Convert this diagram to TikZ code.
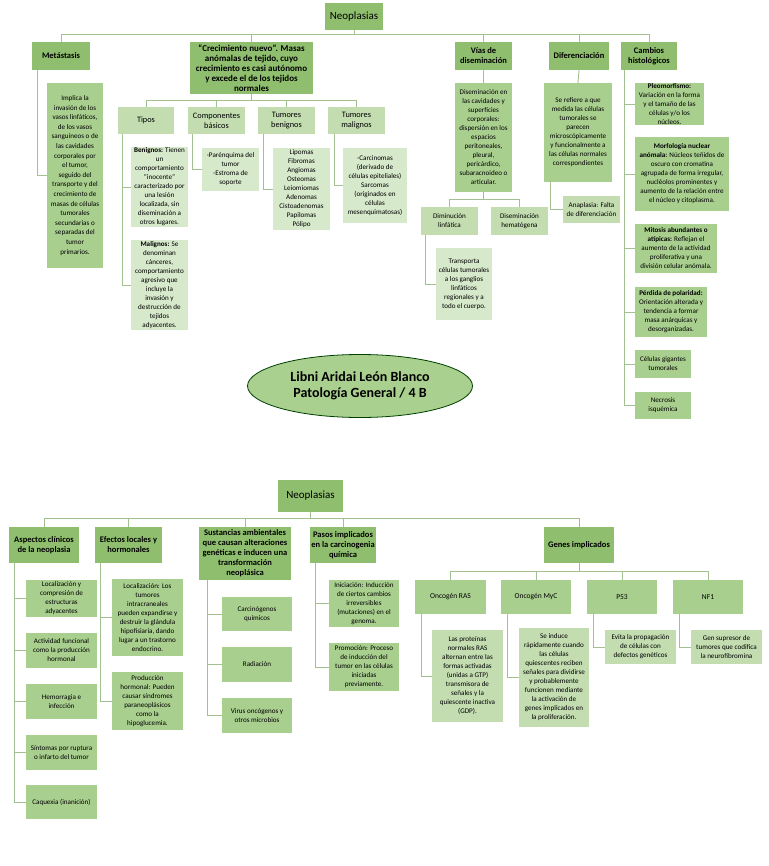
\documentclass[tikz,border=0pt]{standalone}
\usepackage{fontspec}
\setmainfont{Carlito}
\usetikzlibrary{shapes.geometric}
\definecolor{dkc}{HTML}{8FBE6E}
\definecolor{mdc}{HTML}{A9CF8F}
\definecolor{ltc}{HTML}{C3DDB1}
\definecolor{vlc}{HTML}{D7E9CB}
\definecolor{lnc}{HTML}{A3C190}
\definecolor{elc}{HTML}{A9D08E}
\tikzset{
 bx/.style={rectangle, inner sep=0.5pt, align=center, font=\fontsize{7.1}{9}\selectfont, text=black},
 lvone/.style={bx, fill=dkc, font=\fontsize{11}{13}\selectfont},
 lvtwo/.style={bx, fill=dkc, font=\bfseries\fontsize{8.5}{10}\selectfont},
 mdb/.style={bx, fill=mdc},
 ltb/.style={bx, fill=ltc},
 vlb/.style={bx, fill=vlc},
 ltbig/.style={bx, fill=ltc, font=\fontsize{8.3}{10}\selectfont},
 mdbig/.style={bx, fill=mdc, font=\fontsize{7.5}{9}\selectfont},
 conn/.style={draw=lnc, line width=0.9pt},
}
\newcommand{\mybox}[7]{\pgfmathsetmacro{\mbw}{#5-#3}\pgfmathsetmacro{\mbh}{#6-#4}\node[#2,minimum width=\mbw pt,minimum height=\mbh pt] (#1) at ({(#3+#5)/2},{(#4+#6)/2}) {#7};}
\begin{document}
\begin{tikzpicture}[x=1pt,y=-1pt]
\fill[white] (0,0) rectangle (768,866);
\useasboundingbox (0,0) rectangle (768,866);
% ---------- TOP ----------
\mybox{neo}{lvone}{325}{3}{383}{30}{Neoplasias}
\mybox{met}{lvtwo}{32}{42}{90}{70}{Metástasis}
\mybox{crec}{lvtwo,font=\bfseries\fontsize{9}{10}\selectfont}{190}{42}{313}{94}{“Crecimiento nuevo”. Masas\\anómalas de tejido, cuyo\\crecimiento es casi autónomo\\y excede el de los tejidos\\normales}
\mybox{vias}{lvtwo}{455}{42}{512}{70}{Vías de\\diseminación}
\mybox{dif}{lvtwo}{549}{42}{609}{70}{Diferenciación}
\mybox{cam}{lvtwo}{621}{42}{677}{70}{Cambios\\histológicos}
\mybox{impl}{mdb,font=\fontsize{7.1}{9.6}\selectfont}{47}{83}{103}{268}{Implica la\\invasión de los\\vasos linfáticos,\\de los vasos\\sanguíneos o de\\las cavidades\\corporales por\\el tumor,\\seguido del\\transporte y del\\crecimiento de\\masas de células\\tumorales\\secundarias o\\separadas del\\tumor\\primarios.}
\mybox{tipos}{ltbig}{118}{107}{174}{134}{Tipos}
\mybox{comp}{ltbig}{188}{107}{245}{134}{Componentes\\básicos}
\mybox{tben}{ltbig}{258}{107}{315}{134}{Tumores\\benignos}
\mybox{tmal}{ltbig}{328}{107}{385}{134}{Tumores\\malignos}
\mybox{ben}{vlb}{131}{147}{188}{227}{\textbf{Benignos:} Tienen\\un\\comportamiento\\“inocente”\\caracterizado por\\una lesión\\localizada, sin\\diseminación a\\otros lugares.}
\mybox{mal}{vlb}{131}{240}{188}{330}{\textbf{Malignos:} Se\\denominan\\cánceres,\\comportamiento\\agresivo que\\incluye la\\invasión y\\destrucción de\\tejidos\\adyacentes.}
\mybox{par}{vlb}{202}{148}{259}{191}{-Parénquima del\\tumor\\-Estroma de\\soporte}
\mybox{lip}{vlb}{273}{148}{330}{230}{Lipomas\\Fibromas\\Angiomas\\Osteomas\\Leiomiomas\\Adenomas\\Cistoadenomas\\Papilomas\\Pólipo}
\mybox{car}{vlb}{343}{148}{407}{223}{-Carcinomas\\(derivado de\\células epiteliales)\\Sarcomas\\(originados en\\células\\mesenquimatosas)}
\mybox{disc}{mdb}{455}{83}{512}{192}{Diseminación en\\las cavidades y\\superficies\\corporales:\\dispersión en los\\espacios\\peritoneales,\\pleural,\\pericárdico,\\subaracnoideo o\\articular.}
\mybox{linf}{ltb}{421}{207}{478}{235}{Diminución\\linfática}
\mybox{hema}{ltb}{491}{207}{548}{235}{Diseminación\\hematógena}
\mybox{transp}{vlb}{436}{248}{492}{320}{Transporta\\células tumorales\\a los ganglios\\linfáticos\\regionales y a\\todo el cuerpo.}
\mybox{sref}{mdb}{544}{83}{612}{182}{Se refiere a que\\medida las células\\tumorales se\\parecen\\microscópicamente\\y funcionalmente a\\las células normales\\correspondientes}
\mybox{anap}{ltb}{563}{196}{620}{223}{Anaplasia: Falta\\de diferenciación}
\mybox{pleo}{mdb}{635}{83}{704}{125}{\textbf{Pleomorfismo:}\\Variación en la forma\\y el tamaño de las\\células y/o los\\núcleos.}
\mybox{morf}{mdb}{635}{137}{729}{211}{\textbf{Morfología nuclear}\\\textbf{anómala:} Núcleos teñidos de\\oscuro con cromatina\\agrupada de forma irregular,\\nucléolos prominentes y\\aumento de la relación entre\\el núcleo y citoplasma.}
\mybox{mit}{mdb}{635}{224}{717}{273}{\textbf{Mitosis abundantes o}\\\textbf{atípicas:} Reflejan el\\aumento de la actividad\\proliferativa y una\\división celular anómala.}
\mybox{perd}{mdb}{635}{287}{707}{337}{\textbf{Pérdida de polaridad:}\\Orientación alterada y\\tendencia a formar\\masa anárquicas y\\desorganizadas.}
\mybox{gig}{mdb}{635}{350}{691}{378}{Células gigantes\\tumorales}
\mybox{nec}{mdb}{635}{392}{691}{419}{Necrosis\\isquémica}
\node[ellipse, draw=black!75!green, line width=0.8pt, fill=elc, minimum width=225pt, minimum height=63pt, align=center, font=\bfseries\fontsize{14}{16.5}\selectfont] (name) at (360,386) {Libni Aridai León Blanco\\Patología General / 4 B};
% top connectors
\draw[conn] (met.north) -- ++(0,-7) -| (cam.north);
\draw[conn] (neo.south) -- ++(0,5);
\draw[conn] (crec.north) -- ++(0,-7);
\draw[conn] (vias.north) -- ++(0,-7);
\draw[conn] (dif.north) -- ++(0,-7);
\draw[conn] ([xshift=6pt]met.south west) |- (impl.west);
\draw[conn] (crec.south) -- ++(0,7);
\draw[conn] (tipos.north) -- ++(0,-6) -| (tmal.north);
\draw[conn] (comp.north) -- ++(0,-6);
\draw[conn] (tben.north) -- ++(0,-6);
\draw[conn] ([xshift=5pt]tipos.south west) |- (ben.west);
\draw[conn] ([xshift=5pt]tipos.south west) |- (mal.west);
\draw[conn] ([xshift=5pt]comp.south west) |- (par.west);
\draw[conn] ([xshift=6pt]tben.south west) |- (lip.west);
\draw[conn] ([xshift=7pt]tmal.south west) |- (car.west);
\draw[conn] (vias.south) -- (disc.north);
\draw[conn] (disc.south) -- ++(0,8);
\draw[conn] (linf.north) -- ++(0,-7) -| (hema.north);
\draw[conn] ([xshift=5pt]linf.south west) |- (transp.west);
\draw[conn] (dif.south) -- (sref.north);
\draw[conn] ([xshift=7pt]sref.south west) |- (anap.west);
\foreach \c in {pleo,morf,mit,perd,gig,nec}{\draw[conn] ([xshift=4pt]cam.south west) |- (\c.west);}
% ---------- BOTTOM ----------
\mybox{neob}{lvone}{278}{480}{343}{512}{Neoplasias}
\mybox{asp}{lvtwo}{9}{527}{79}{563}{Aspectos clínicos\\de la neoplasia}
\mybox{efe}{lvtwo}{95}{527}{162}{563}{Efectos locales y\\hormonales}
\mybox{sus}{lvtwo}{199}{527}{291}{580}{Sustancias ambientales\\que causan alteraciones\\genéticas e inducen una\\transformación\\neoplásica}
\mybox{pas}{lvtwo}{310}{527}{376}{563}{Pasos implicados\\en la carcinogenia\\química}
\mybox{genes}{lvtwo}{544}{527}{614}{563}{Genes implicados}
\mybox{locA}{mdb}{26}{580}{97}{617}{Localización y\\compresión de\\estructuras\\adyacentes}
\mybox{act}{mdb}{26}{633}{97}{668}{Actividad funcional\\como la producción\\hormonal}
\mybox{hem}{mdb}{26}{684}{97}{719}{Hemorragia e\\infección}
\mybox{sin}{mdb}{26}{735}{97}{770}{Síntomas por ruptura\\o infarto del tumor}
\mybox{caq}{mdb}{26}{785}{97}{819}{Caquexia (inanición)}
\mybox{locB}{mdb}{112}{579}{183}{656}{Localización: Los\\tumores\\intracraneales\\pueden expandirse y\\destruir la glándula\\hipofisiaria, dando\\lugar a un trastorno\\endocrino.}
\mybox{prod}{mdb}{112}{672}{183}{730}{Producción\\hormonal: Pueden\\causar síndromes\\paraneoplásicos\\como la\\hipoglucemia.}
\mybox{carc}{mdb}{222}{597}{292}{631}{Carcinógenos\\químicos}
\mybox{rad}{mdb}{222}{647}{292}{682}{Radiación}
\mybox{vir}{mdb}{222}{698}{292}{733}{Virus oncógenos y\\otros microbios}
\mybox{ini}{mdb}{329}{580}{399}{627}{Iniciación: Inducción\\de ciertos cambios\\irreversibles\\(mutaciones) en el\\genoma.}
\mybox{prom}{mdb}{329}{643}{399}{691}{Promoción: Proceso\\de inducción del\\tumor en las células\\iniciadas\\previamente.}
\mybox{ras}{mdbig}{415}{580}{486}{614}{Oncogén RAS}
\mybox{myc}{mdbig}{501}{580}{571}{614}{Oncogén MyC}
\mybox{pft}{mdbig}{587}{580}{657}{614}{P53}
\mybox{nfo}{mdbig}{673}{580}{743}{614}{NF1}
\mybox{rast}{ltb}{432}{630}{503}{722}{Las proteínas\\normales RAS\\alternan entre las\\formas activadas\\(unidas a GTP)\\transmisora de\\señales y la\\quiescente inactiva\\(GDP).}
\mybox{myct}{ltb}{519}{628}{589}{727}{Se induce\\rápidamente cuando\\las células\\quiescentes reciben\\señales para dividirse\\y probablemente\\funcionen mediante\\la activación de\\genes implicados en\\la proliferación.}
\mybox{pftt}{ltb}{605}{630}{676}{664}{Evita la propagación\\de células con\\defectos genéticos}
\mybox{nfot}{ltb}{691}{630}{762}{664}{Gen supresor de\\tumores que codifica\\la neurofibromina}
% bottom connectors
\draw[conn] (asp.north) -- ++(0,-8) -| (genes.north);
\draw[conn] (neob.south) -- ++(0,7);
\draw[conn] (efe.north) -- ++(0,-8);
\draw[conn] (sus.north) -- ++(0,-8);
\draw[conn] (pas.north) -- ++(0,-8);
\foreach \c in {locA,act,hem,sin,caq}{\draw[conn] ([xshift=6pt]asp.south west) |- (\c.west);}
\foreach \c in {locB,prod}{\draw[conn] ([xshift=6pt]efe.south west) |- (\c.west);}
\foreach \c in {carc,rad,vir}{\draw[conn] ([xshift=9pt]sus.south west) |- (\c.west);}
\foreach \c in {ini,prom}{\draw[conn] ([xshift=6pt]pas.south west) |- (\c.west);}
\draw[conn] (genes.south) -- ++(0,9);
\draw[conn] (ras.north) -- ++(0,-8) -| (nfo.north);
\draw[conn] (myc.north) -- ++(0,-8);
\draw[conn] (pft.north) -- ++(0,-8);
\draw[conn] ([xshift=7pt]ras.south west) |- (rast.west);
\draw[conn] ([xshift=7pt]myc.south west) |- (myct.west);
\draw[conn] ([xshift=7pt]pft.south west) |- (pftt.west);
\draw[conn] ([xshift=7pt]nfo.south west) |- (nfot.west);
\end{tikzpicture}
\end{document}
